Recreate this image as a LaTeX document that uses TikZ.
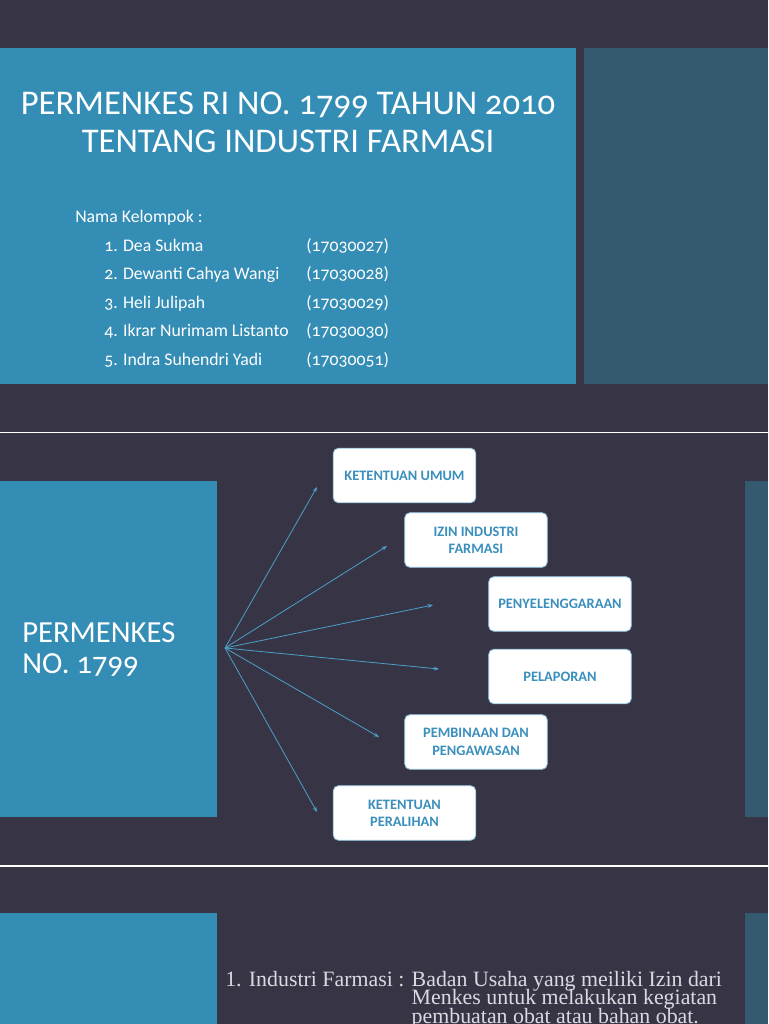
\documentclass[tikz,border=0pt]{standalone}
\usepackage{fontspec}
\setmainfont{Carlito}[Numbers=OldStyle]
\newfontfamily\serifface{Liberation Serif}
\usetikzlibrary{arrows.meta, positioning}

\definecolor{slidebg}{HTML}{373446}
\definecolor{panelblue}{HTML}{348DB5}
\definecolor{paneldark}{HTML}{35596F}
\definecolor{arrowblue}{HTML}{4CA0C8}
\definecolor{boxtext}{HTML}{3A8FBD}
\definecolor{boxedge}{HTML}{8FC2DD}
\definecolor{bodytext}{HTML}{D9D9E0}

\tikzset{
    topic/.style={draw=boxedge, line width=0.6pt, fill=white, rounded corners=4pt,
        minimum width=107pt, minimum height=41pt, align=center, text=boxtext,
        font=\fontsize{10.8}{13}\selectfont\bfseries},
    branch/.style={draw=arrowblue, line width=0.6pt, -{Stealth[length=4pt, width=3pt]}},
    member/.style={anchor=base west, inner sep=0pt, text=white, font=\fontsize{13.3}{15}\selectfont},
    defline/.style={anchor=base west, inner sep=0pt, text=bodytext, font=\serifface\fontsize{16.4}{14}\selectfont},
}

\begin{document}
\begin{tikzpicture}[x=0.75pt, y=-0.75pt]
    \useasboundingbox (0,0) rectangle (768,1024);
    \fill[slidebg] (0,0) rectangle (768,1024);
    % slide 1
    \fill[panelblue] (0,48) rectangle (576,384);
    \fill[paneldark] (584,48) rectangle (768,384);
    \node[anchor=base, inner sep=0pt, text=white, font=\fontsize{26}{28}\selectfont] (title1) at (288,114)
        {PERMENKES RI NO. 1799 TAHUN 2010};
    \node[anchor=base, inner sep=0pt, text=white, font=\fontsize{26}{28}\selectfont] (title2) at (288,152)
        {TENTANG INDUSTRI FARMASI};
    \node[member] (group) at (75,222) {Nama Kelompok :};
    \foreach \i/\nama/\nim [count=\k] in {
        1/Dea Sukma/17030027,
        2/Dewanti Cahya Wangi/17030028,
        3/Heli Julipah/17030029,
        4/Ikrar Nurimam Listanto/17030030,
        5/Indra Suhendri Yadi/17030051} {
        \node[member] (nama\k) at (104,{251+28.5*(\k-1)}) {\i. \nama};
        \node[member] (nim\k) at (306,{251+28.5*(\k-1)}) {(\nim)};
    }
    \draw[white, line width=1.2pt] (0,432.5) -- (768,432.5);
    % slide 2
    \fill[panelblue] (0,480.5) rectangle (217,817);
    \fill[paneldark] (745,480.5) rectangle (768,817);
    \node[anchor=base west, inner sep=0pt, text=white, font=\fontsize{23}{26}\selectfont] (pmk1) at (22,642)
        {PERMENKES};
    \node[anchor=base west, inner sep=0pt, text=white, font=\fontsize{23}{26}\selectfont] (pmk2) at (22,673)
        {NO. 1799};
    \coordinate (hub) at (225,648);
    \node[topic] (umum) at (404.5,475.5) {KETENTUAN UMUM};
    \node[topic] (izin) at (476,540) {IZIN INDUSTRI\\FARMASI};
    \node[topic] (lenggara) at (560,604) {PENYELENGGARAAN};
    \node[topic] (lapor) at (560,676.5) {PELAPORAN};
    \node[topic] (bina) at (476,742) {PEMBINAAN DAN\\PENGAWASAN};
    \node[topic] (alih) at (404.5,813) {KETENTUAN\\PERALIHAN};
    \coordinate (e1) at (317,487);
    \coordinate (e2) at (387,546);
    \coordinate (e3) at (433,605);
    \coordinate (e4) at (439,669);
    \coordinate (e5) at (379,737);
    \coordinate (e6) at (317,812);
    \foreach \k in {1,...,6}
        \draw[branch] (hub) -- (e\k);
    \draw[white, line width=1.2pt] (0,866) -- (768,866);
    % slide 3
    \fill[panelblue] (0,913) rectangle (217,1024);
    \fill[paneldark] (745,913) rectangle (768,1024);
    \node[defline] (def1) at (225,986) {1. Industri Farmasi : Badan Usaha yang meiliki Izin dari};
    \node[defline] (def2) at (225,1004.5) {\phantom{1. Industri Farmasi : }Menkes untuk melakukan kegiatan};
    \node[defline] (def3) at (225,1023) {\phantom{1. Industri Farmasi : }pembuatan obat atau bahan obat.};
\end{tikzpicture}
\end{document}
